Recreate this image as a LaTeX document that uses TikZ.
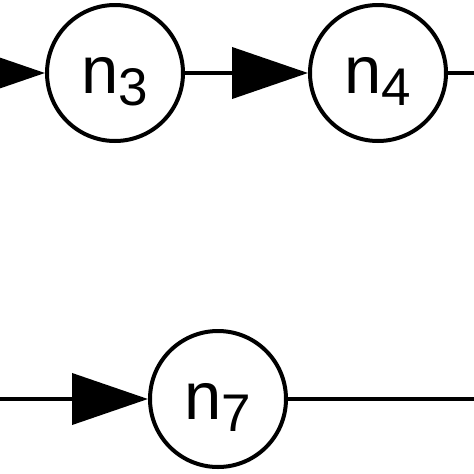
\documentclass[tikz,border=0pt]{standalone}
\usepackage{fontspec}
\setmainfont{Liberation Sans}
\usetikzlibrary{arrows.meta}

\newcommand{\lbl}[1]{\fontsize{67}{67}\selectfont n\raisebox{-12pt}{\fontsize{53}{53}\selectfont #1}}

\begin{document}
\begin{tikzpicture}[x=1pt,y=-1pt,line width=4pt,
    state/.style={draw,circle,minimum size=136pt,inner sep=0pt,text height=52pt,text depth=12pt},
    flow/.style={-{Triangle[length=76pt,width=51pt]}}]
                \clip (0,0) rectangle (474,474);
                \node[state] (n3) at (115,73) {\lbl{3}};
                \node[state] (n4) at (378,73) {\lbl{4}};
                \node[state] (n7) at (218,399) {\lbl{7}};
                \coordinate (in3) at (-60,73);
                \coordinate (out4) at (520,73);
                \coordinate (in7) at (-20,399);
                \coordinate (out7) at (520,399);
                \draw[flow] (in3) -- (n3);
                \draw[flow] (n3) -- (n4);
                \draw (n4) -- (out4);
                \draw[flow] (in7) -- (n7);
                \draw (n7) -- (out7);
            \end{tikzpicture}
\end{document}
